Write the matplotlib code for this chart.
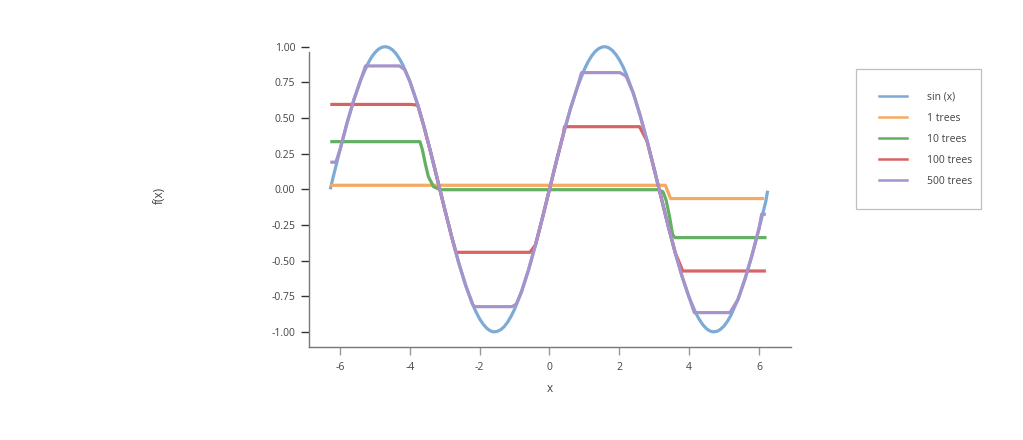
import matplotlib
matplotlib.use("Agg")
import matplotlib.pyplot as plt
from matplotlib.lines import Line2D

# ---------------- data ----------------
sin_x = [-6.28, -6.2, -6.0, -5.8, -5.6, -5.4, -5.2, -5.1, -5.0, -4.9, -4.8, -4.7, -4.6, -4.5,
         -4.4, -4.3, -4.2, -4.0, -3.8, -3.6, -3.4, -3.2, -3.0, -2.8, -2.6, -2.4, -2.2, -2.1,
         -2.0, -1.9, -1.8, -1.7, -1.6, -1.5, -1.4, -1.3, -1.2, -1.1, -1.0, -0.8, -0.6, -0.4,
         -0.2, 0.0, 0.2, 0.4, 0.6, 0.8, 1.0, 1.1, 1.2, 1.3, 1.4, 1.5, 1.6, 1.7, 1.8, 1.9,
         2.0, 2.1, 2.2, 2.4, 2.6, 2.8, 3.0, 3.2, 3.4, 3.6, 3.8, 4.0, 4.2, 4.3, 4.4, 4.5,
         4.6, 4.7, 4.8, 4.9, 5.0, 5.1, 5.2, 5.4, 5.6, 5.8, 6.0, 6.2, 6.25]
sin_y = [0.0, 0.083, 0.279, 0.465, 0.631, 0.773, 0.883, 0.926, 0.959, 0.982, 0.996, 1.0, 0.994, 0.978,
         0.952, 0.916, 0.872, 0.757, 0.612, 0.443, 0.256, 0.058, -0.141, -0.335, -0.516, -0.675, -0.808, -0.863,
         -0.909, -0.946, -0.974, -0.992, -1.0, -0.997, -0.985, -0.964, -0.932, -0.891, -0.841, -0.717, -0.565, -0.389,
         -0.199, 0.0, 0.199, 0.389, 0.565, 0.717, 0.841, 0.891, 0.932, 0.964, 0.985, 0.997, 1.0, 0.992, 0.974, 0.946,
         0.909, 0.863, 0.808, 0.675, 0.516, 0.335, 0.141, -0.058, -0.256, -0.443, -0.612, -0.757, -0.872, -0.916, -0.952, -0.978,
         -0.994, -1.0, -0.996, -0.982, -0.959, -0.926, -0.883, -0.773, -0.631, -0.465, -0.279, -0.083, -0.01]

t1_x = [-6.28, 3.32, 3.47, 6.15]
t1_y = [0.028, 0.028, -0.065, -0.065]

t10_x = [-6.28, -3.71, -3.64, -3.56, -3.47, -3.32, -3.13, 3.10, 3.25, 3.34, 3.44, 3.53, 3.60, 6.22]
t10_y = [0.334, 0.334, 0.276, 0.182, 0.088, 0.018, -0.003, -0.003, -0.017, -0.075, -0.192, -0.320, -0.339, -0.339]

t100_x = [-6.28, -3.97, -3.77, -3.6, -3.4, -3.2, -3.0, -2.8, -2.68, -0.56, -0.4, -0.2, 0.0,
          0.2, 0.4, 0.43, 2.58, 2.8, 3.0, 3.2, 3.4, 3.6, 3.82, 6.2]
t100_y = [0.595, 0.595, 0.59, 0.443, 0.256, 0.058, -0.141, -0.335, -0.442, -0.442, -0.389, -0.199, 0.0,
          0.199, 0.389, 0.439, 0.439, 0.335, 0.141, -0.058, -0.256, -0.443, -0.573, -0.573]

t500_x = [-6.28, -6.12, -6.0, -5.8, -5.6, -5.4, -5.27, -4.3, -4.15, -4.0, -3.8, -3.6, -3.4, -3.2,
          -3.0, -2.8, -2.6, -2.4, -2.2, -2.14, -1.07, -0.95, -0.8, -0.6, -0.4, -0.2, 0.0, 0.2,
          0.4, 0.6, 0.8, 0.92, 2.02, 2.15, 2.2, 2.4, 2.6, 2.8, 3.0, 3.2, 3.4, 3.6, 3.8, 4.0,
          4.15, 5.17, 5.4, 5.6, 5.8, 6.0, 6.08, 6.2]
t500_y = [0.19, 0.19, 0.279, 0.465, 0.631, 0.773, 0.865, 0.865, 0.84, 0.757, 0.612, 0.443, 0.256, 0.058,
          -0.141, -0.335, -0.516, -0.675, -0.808, -0.823, -0.823, -0.805, -0.717, -0.565, -0.389, -0.199, 0.0, 0.199,
          0.389, 0.565, 0.717, 0.818, 0.818, 0.80, 0.79, 0.675, 0.516, 0.335, 0.141, -0.058, -0.256, -0.443, -0.612, -0.757,
          -0.865, -0.865, -0.773, -0.631, -0.465, -0.279, -0.175, -0.175]

labels = ["sin (x)", "1 trees", "10 trees", "100 trees", "500 trees"]
colors = ["#7dabd6", "#f5aa62", "#63b063", "#d76464", "#a693cc"]
x_ticks = [-6, -4, -2, 0, 2, 4, 6]
y_ticks = [-1.0, -0.75, -0.5, -0.25, 0.0, 0.25, 0.5, 0.75, 1.0]

# ---------------- figure ----------------
plt.rcParams['font.family'] = ['Open Sans', 'DejaVu Sans']
fig = plt.figure(figsize=(10.23, 4.40), dpi=100)
ax = fig.add_axes([309 / 1023, (440 - 347) / 440, (791 - 309) / 1023, (347 - 42.4) / 440])

series = [(sin_x, sin_y), (t1_x, t1_y), (t10_x, t10_y), (t100_x, t100_y), (t500_x, t500_y)]
for (xs, ys), c, lab in zip(series, colors, labels):
    ax.plot(xs, ys, color=c, lw=2.3, label=lab, solid_capstyle='butt',
            solid_joinstyle='round', clip_on=False)

ax.set_xlim(-6.89, 6.92)
ax.set_ylim(-1.106, 1.03)
ax.set_xticks(x_ticks)
ax.set_xticklabels([f"{v:g}" for v in x_ticks])
ax.set_yticks(y_ticks)
ax.set_yticklabels([f"{v:.2f}" for v in y_ticks])

for s in ["top", "right"]:
    ax.spines[s].set_visible(False)
ax.spines["left"].set_bounds(-1.106, 0.965)
for s in ["left", "bottom"]:
    ax.spines[s].set_color("#777777")
    ax.spines[s].set_linewidth(1.0)

ax.tick_params(axis="y", length=6, width=1.0, color="#333333", pad=4,
               labelsize=7.5, labelcolor="#444444")
ax.tick_params(axis="x", length=6, width=1.0, color="#999999", pad=5,
               labelsize=7.5, labelcolor="#444444")

ax.set_xlabel("x", fontsize=8.5, color="#444444")
ax.xaxis.set_label_coords((550 - 309) / (791 - 309), (347 - 382) / (347 - 42.4))
ax.set_ylabel("f(x)", fontsize=8.5, color="#444444")
ax.yaxis.set_label_coords((166 - 309) / (791 - 309), (347 - 195) / (347 - 42.4))

handles = [Line2D([0], [0], color=c, lw=1.8) for c in colors]
leg = fig.legend(handles, labels, loc="upper left",
                 bbox_to_anchor=(856 / 1023, 1 - 208 / 440, 125 / 1023, 139 / 440),
                 mode="expand", frameon=True, fancybox=False, fontsize=7.5,
                 handlelength=2.7, handletextpad=1.9, labelspacing=0.95,
                 borderpad=2.2, borderaxespad=0.0)
leg.get_frame().set_edgecolor("#b0b0b0")
leg.get_frame().set_linewidth(0.9)
for t in leg.get_texts():
    t.set_color("#444444")

fig.savefig("out.png", dpi=100)
